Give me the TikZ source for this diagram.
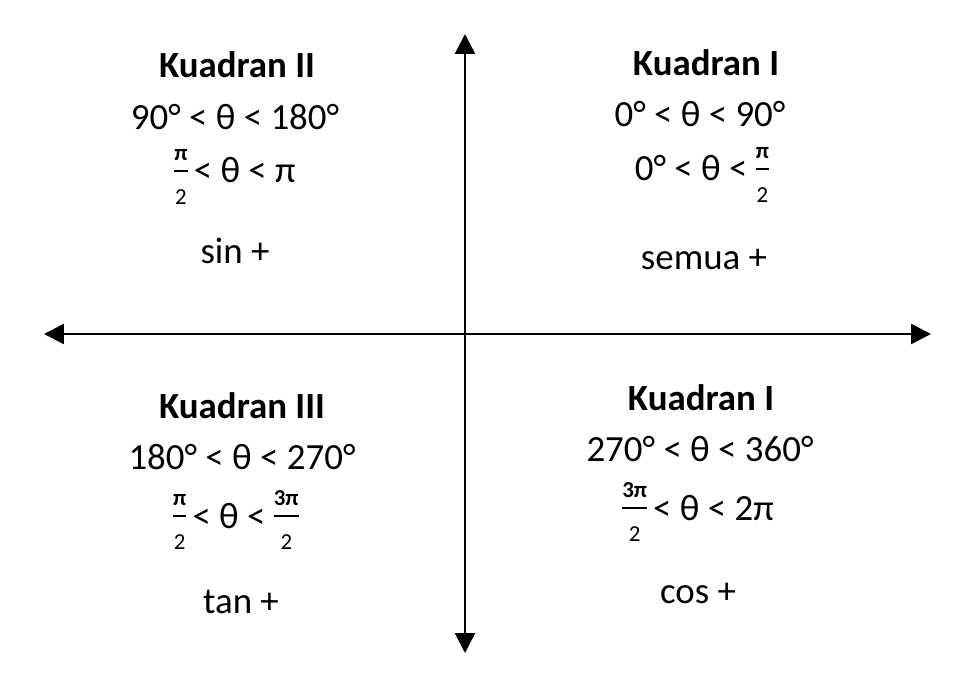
\documentclass[tikz,border=0pt]{standalone}
\usepackage{fontspec}
\setmainfont{Carlito}
\usetikzlibrary{arrows.meta}
\newcommand{\pecahan}[2]{\raisebox{-12.5pt}{\fontsize{13}{15.6}\selectfont\setlength{\arrayrulewidth}{1pt}\begin{tabular}[b]{@{}c@{}}#1\\[1pt]\hline\rule{0pt}{18.7pt}#2\end{tabular}}\,}

\begin{document}
\begin{tikzpicture}[x=0.02cm,y=-0.02cm,
judul/.style={anchor=base,font=\fontsize{21}{25}\selectfont\bfseries},
isi/.style={anchor=base,font=\fontsize{21}{25}\selectfont},
sumbu/.style={line width=1.4pt,{Triangle[length=0.4cm,width=0.4cm]}-{Triangle[length=0.4cm,width=0.4cm]}}]
\useasboundingbox (0,0) rectangle (980,689);
\coordinate (atas) at (465,34);\coordinate (bawah) at (465,653);
\coordinate (kiri) at (44,334);\coordinate (kanan) at (931,334);
\draw[sumbu] (bawah) -- (atas);\draw[sumbu] (kiri) -- (kanan);
\node[judul] (k1judul) at (706,76) {Kuadran I};
\node[isi] (k1derajat) at (700,127) {0° < θ < 90°};
\node[isi] (k1radian) at (705,181) {0° < θ < \pecahan{\textbf{π}}{2}};
\node[isi] (k1tanda) at (704,270) {semua +};
\node[judul] (k2judul) at (237,78) {Kuadran II};
\node[isi] (k2derajat) at (235,130) {90° < θ < 180°};
\node[isi] (k2radian) at (235,183) {\pecahan{\textbf{π}}{2}< θ < π};
\node[isi] (k2tanda) at (235,263) {sin +};
\node[judul] (k3judul) at (242,418) {Kuadran III};
\node[isi] (k3derajat) at (242,469) {180° < θ < 270°};
\node[isi] (k3radian) at (239,528) {\pecahan{\textbf{π}}{2}< θ < \pecahan{\textbf{3π}}{2}};
\node[isi] (k3tanda) at (241,613) {tan +};
\node[judul] (k4judul) at (701,410) {Kuadran I};
\node[isi] (k4derajat) at (700,461) {270° < θ < 360°};
\node[isi] (k4radian) at (698,520) {\pecahan{\textbf{3π}}{2}< θ < 2π};
\node[isi] (k4tanda) at (698,603) {cos +};
\end{tikzpicture}
\end{document}
